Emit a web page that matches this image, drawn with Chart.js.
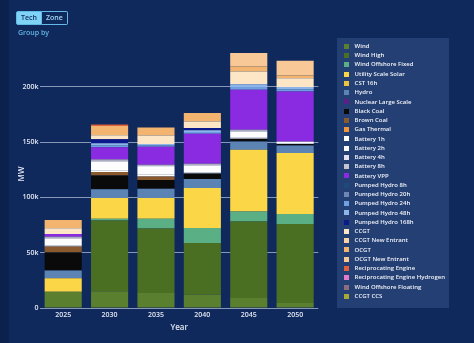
<!DOCTYPE html>
<html>
<head>
<meta charset="utf-8">
<script src="https://cdn.jsdelivr.net/npm/chart.js@4/dist/chart.umd.min.js"></script>
<style>
  html, body { margin: 0; padding: 0; background: #10295d; width: 474px; height: 343px; overflow: hidden; }
  #edge { position: absolute; left: 0; top: 0; width: 9px; height: 343px; background: #0c214e; }
  #wrap { position: absolute; left: 0; top: 0; width: 474px; height: 343px; }
  .grp { position: absolute; left: 16px; top: 11px; display: flex; font: 600 7px "Open Sans", sans-serif; }
  .grp span { display: block; height: 12px; line-height: 12px; padding: 0 4px; border: 1px solid #63b9e8; }
  .grp .on { background: #7fd3f6; color: #0f2a5e; border-radius: 2px 0 0 2px; }
  .grp .off { color: #a4d8f6; border-left: none; border-radius: 0 2px 2px 0; }
  #lbl { position: absolute; left: 18px; top: 28px; font: 600 7px "Open Sans", sans-serif; color: #62b6e6; }
</style>
</head>
<body>
<div id="edge"></div>
<div id="wrap"><canvas id="grafico" width="474" height="343"></canvas></div>
<div class="grp"><span class="on">Tech</span><span class="off">Zone</span></div>
<div id="lbl">Group by</div>

<script>
// ---------- dados ----------
const years = ["2025", "2030", "2035", "2040", "2045", "2050"];

const wind              = [14800, 15100, 13600, 12100, 9000, 4500];
const windHigh          = [0, 63900, 58200, 46700, 69300, 71400];
const windOffshoreFixed = [0, 1800, 9000, 13600, 9000, 9000];
const utilitySolar      = [12100, 18700, 18700, 36200, 55800, 55200];
const cst16h            = [0, 0, 0, 0, 0, 0];
const hydro             = [6900, 7800, 8400, 8100, 7500, 6900];
const nuclear           = [0, 0, 0, 0, 0, 0];
const blackCoal         = [16600, 12400, 7800, 4800, 2400, 1200];
const brownCoal         = [5100, 3300, 3300, 0, 0, 0];
const gasThermal        = [0, 0, 0, 0, 0, 0];
const battery1h         = [1000, 1500, 1500, 1000, 1000, 500];
const battery2h         = [6000, 7700, 7000, 6000, 5600, 1400];
const battery4h         = [1000, 1000, 1000, 1000, 800, 300];
const battery8h         = [1000, 1000, 1000, 1000, 700, 200];
const batteryVpp        = [2400, 11200, 16300, 27100, 36200, 45200];
const pumped8h          = [0, 0, 0, 0, 0, 0];
const pumped20h         = [0, 0, 0, 0, 0, 0];
const pumped24h         = [0, 1800, 1200, 1500, 2500, 2000];
const pumped48h         = [0, 1800, 1200, 1500, 2600, 1900];
const pumped168h        = [0, 3600, 0, 2100, 0, 0];
const ccgt              = [5100, 3600, 7800, 6000, 11500, 8100];
const ccgtNewEntrant    = [0, 0, 0, 0, 0, 0];
const ocgt              = [7500, 8400, 7200, 7500, 4500, 2400];
const ocgtNewEntrant    = [0, 0, 0, 0, 12100, 13300];
const recipEngine       = [0, 1200, 0, 0, 0, 0];
const recipHydrogen     = [0, 0, 0, 0, 0, 0];
const windOffFloating   = [0, 0, 0, 0, 0, 0];
const ccgtCcs           = [0, 0, 0, 0, 0, 0];

const yTicks      = [0, 50000, 100000, 150000, 200000];
const yTickLabels = ["0", "50k", "100k", "150k", "200k"];

// ---------- séries ----------
const series = [
  ["Wind", wind, "#5a7f2f"],
  ["Wind High", windHigh, "#4a6e22"],
  ["Wind Offshore Fixed", windOffshoreFixed, "#5aaf84"],
  ["Utility Scale Solar", utilitySolar, "#fbd646"],
  ["CST 16h", cst16h, "#e9c33f"],
  ["Hydro", hydro, "#5b84b5"],
  ["Nuclear Large Scale", nuclear, "#5b1f87"],
  ["Black Coal", blackCoal, "#0a0a0a"],
  ["Brown Coal", brownCoal, "#8a5a2e"],
  ["Gas Thermal", gasThermal, "#f2953c"],
  ["Battery 1h", battery1h, "#ffffff"],
  ["Battery 2h", battery2h, "#fdfdfd"],
  ["Battery 4h", battery4h, "#e4e2ee"],
  ["Battery 8h", battery8h, "#c4c4cc"],
  ["Battery VPP", batteryVpp, "#8a2be2"],
  ["Pumped Hydro 8h", pumped8h, "#1e4a7a"],
  ["Pumped Hydro 20h", pumped20h, "#6f86b4"],
  ["Pumped Hydro 24h", pumped24h, "#6e9fe0"],
  ["Pumped Hydro 48h", pumped48h, "#8db5ea"],
  ["Pumped Hydro 168h", pumped168h, "#0c1a8c"],
  ["CCGT", ccgt, "#fde6c6"],
  ["CCGT New Entrant", ccgtNewEntrant, "#f9d3a4"],
  ["OCGT", ocgt, "#f2b46e"],
  ["OCGT New Entrant", ocgtNewEntrant, "#f8c996"],
  ["Reciprocating Engine", recipEngine, "#e0603c"],
  ["Reciprocating Engine Hydrogen", recipHydrogen, "#e57ac8"],
  ["Wind Offshore Floating", windOffFloating, "#8e6e7e"],
  ["CCGT CCS", ccgtCcs, "#a8a832"]
];

// quadradinho da legenda
function squareIcon(color) {
  const c = document.createElement("canvas");
  c.width = 5; c.height = 5;
  const g = c.getContext("2d");
  g.fillStyle = color;
  g.fillRect(0, 0, 5, 5);
  return c;
}

const FONT = "'Open Sans', sans-serif";
const LEG_PAD = 3.26;

// fundo da legenda
const legendBg = {
  id: "legendBg",
  beforeDraw(chart) {
    const l = chart.legend;
    if (!l) return;
    const ctx = chart.ctx;
    ctx.save();
    ctx.fillStyle = "#243f73";
    ctx.fillRect(Math.round(l.left + LEG_PAD - 4), 38, 112, 270);
    ctx.restore();
  }
};

new Chart(document.getElementById("grafico"), {
  type: "bar",
  data: {
    labels: years,
    datasets: series.map(([label, data, color]) => ({
      label,
      data,
      backgroundColor: color,
      borderWidth: 0,
      barPercentage: 0.8,
      categoryPercentage: 1
    }))
  },
  options: {
    responsive: false,
    animation: false,
    devicePixelRatio: 1,
    layout: { padding: { top: 40, right: 19, bottom: 0, left: 0 } },
    plugins: {
      tooltip: { enabled: false },
      legend: {
        position: "right",
        align: "start",
        maxWidth: 200,
        labels: {
          color: "#f2f4fa",
          font: { family: FONT, size: 6, weight: "600" },
          padding: LEG_PAD,
          usePointStyle: true,
          pointStyleWidth: 11,
          generateLabels(chart) {
            const items = Chart.defaults.plugins.legend.labels.generateLabels(chart);
            items.forEach(it => { it.pointStyle = squareIcon(series[it.datasetIndex][2]); });
            return items;
          }
        }
      }
    },
    scales: {
      x: {
        stacked: true,
        grid: { display: false, drawTicks: false },
        border: { display: false },
        ticks: { color: "#e2e7f2", font: { family: FONT, size: 7, weight: "600" }, padding: 3 },
        title: { display: true, text: "Year", color: "#e2e7f2", font: { family: FONT, size: 8, weight: "600" }, padding: { top: 0, bottom: 10 } },
        afterFit(s) { s.height = 35; }
      },
      y: {
        stacked: true,
        min: 0,
        max: 242300,
        afterBuildTicks(s) { s.ticks = yTicks.map(v => ({ value: v })); },
        grid: { color: "rgba(200,210,230,0.65)", lineWidth: 1, drawTicks: false },
        border: { display: false },
        ticks: {
          color: "#e2e7f2",
          font: { family: FONT, size: 7, weight: "600" },
          padding: 1.5,
          callback: (v) => yTickLabels[yTicks.indexOf(v)]
        },
        title: { display: true, text: "MW", color: "#e2e7f2", font: { family: FONT, size: 8, weight: "600" }, padding: { top: 17, bottom: 0 } },
        afterFit(s) { s.width = 40; }
      },
      gap: {
        position: "right",
        display: true,
        grid: { display: false, drawTicks: false },
        border: { display: false },
        ticks: { display: false },
        afterFit(s) { s.width = 19; }
      }
    }
  },
  plugins: [legendBg]
});
</script>
</body>
</html>
